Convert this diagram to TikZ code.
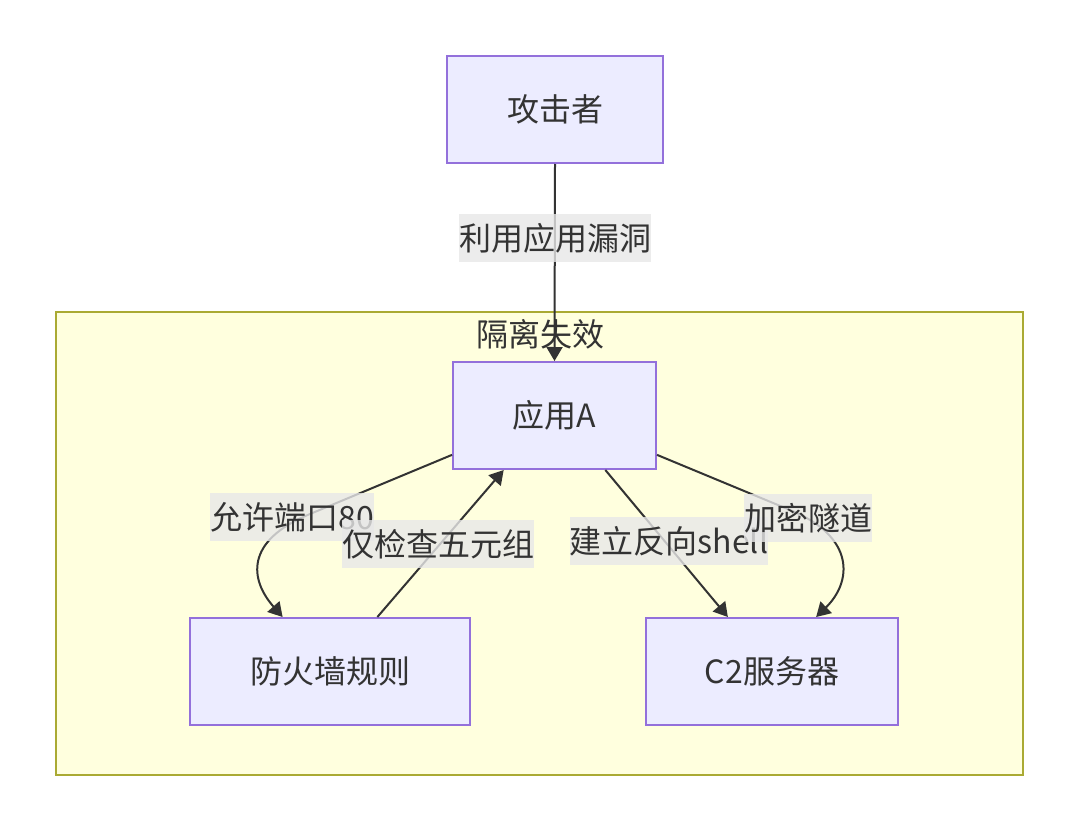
\documentclass[tikz,border=0pt]{standalone}
\usepackage{fontspec}
\newfontfamily\cjk{Noto Sans CJK SC}
\usetikzlibrary{arrows.meta}
\definecolor{boxfill}{HTML}{ECECFF}
\definecolor{boxline}{HTML}{9370DB}
\definecolor{clfill}{HTML}{FFFFDE}
\definecolor{clline}{HTML}{AAAA33}
\definecolor{txt}{HTML}{333333}
\definecolor{lblbg}{HTML}{E8E8E8}
\tikzset{
  x=1pt, y=-1pt,
  every node/.style={font=\cjk\fontsize{32}{38}\selectfont, text=txt},
  box/.style={draw=boxline, fill=boxfill, line width=2pt, rectangle, inner sep=0pt},
  lbl/.style={fill=lblbg, fill opacity=0.8, text opacity=1, inner xsep=0pt, inner ysep=0pt, minimum height=48pt},
  edge/.style={draw=txt, line width=2pt, -{Triangle[length=14pt,width=16pt]}},
}
\begin{document}
\begin{tikzpicture}
\useasboundingbox (0,0) rectangle (1078,832);
\fill[white] (0,0) rectangle (1078,832);
% cluster
\draw[draw=clline, fill=clfill, line width=2pt] (56,312) rectangle (1023,775);
\node (cltitle) at (540,334) {隔离失效};
% nodes
\node[box, minimum width=216pt, minimum height=107pt] (att) at (555,109.5) {攻击者};
\node[box, minimum width=203pt, minimum height=107pt] (app) at (554.5,415.5) {应用A};
\node[box, minimum width=280pt, minimum height=107pt] (fw) at (330,671.5) {防火墙规则};
\node[box, minimum width=252pt, minimum height=107pt] (c2) at (772,671.5) {C2服务器};
% edges
\draw[edge] (att.south) -- (app.north);
\draw[edge] (app.201) -- (310,514) .. controls (244,541) and (250,580) .. (fw.131);
\draw[edge] (fw.49) -- (app.227);
\draw[edge] (app.-47) -- (c2.129);
\draw[edge] (app.-21.7) -- (790,510) .. controls (856,537) and (852,582) .. (c2.51);
% labels
\node[lbl] (l1) at (555,238) {利用应用漏洞};
\node[lbl] (l2) at (292,517) {允许端口80};
\node[lbl] (l3) at (438,544) {仅检查五元组};
\node[lbl] (l4) at (669,541) {建立反向shell};
\node[lbl] (l5) at (808,518) {加密隧道};
\end{tikzpicture}
\end{document}
